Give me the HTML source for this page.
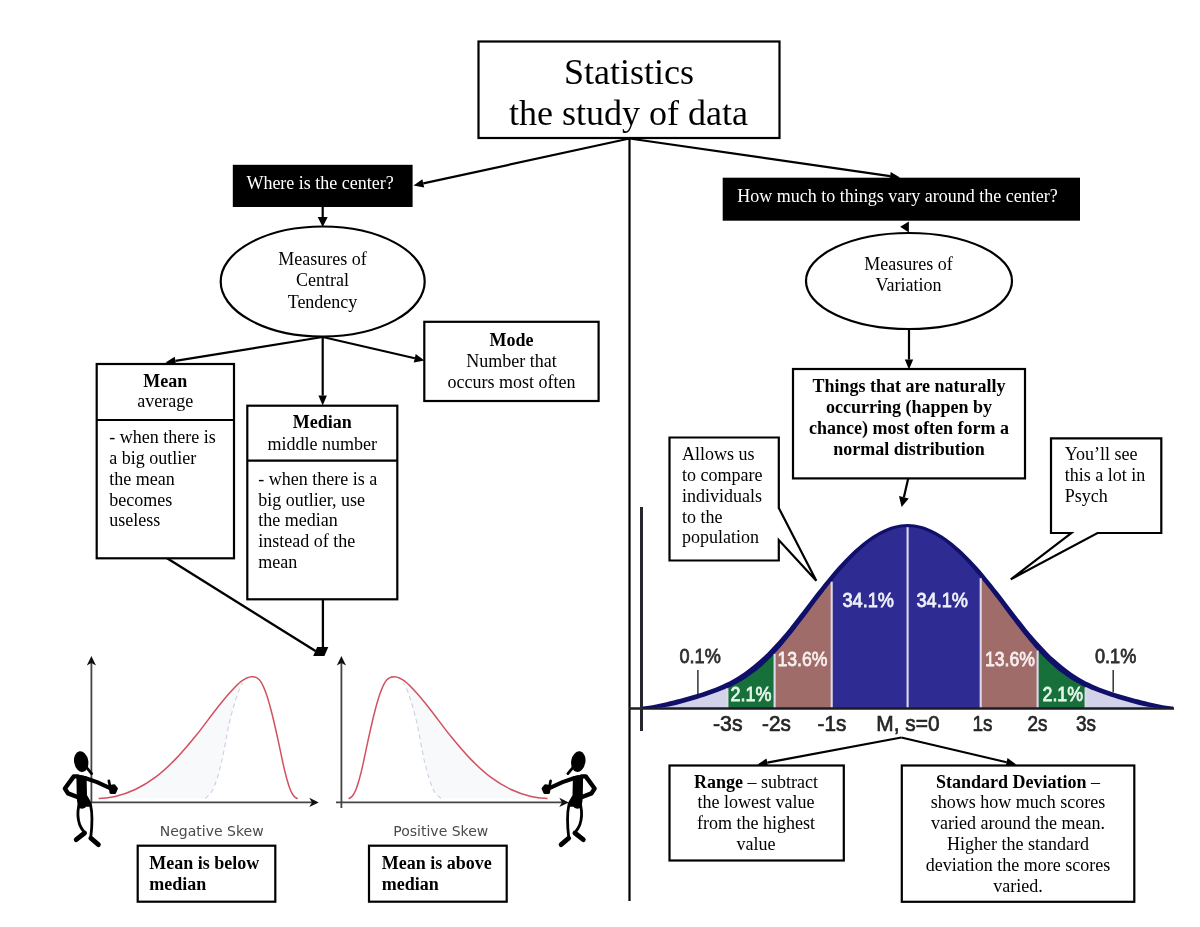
<!DOCTYPE html>
<html lang="en"><head><meta charset="utf-8"><title>Statistics - the study of data</title>
<style>
html,body{margin:0;padding:0;background:#fff}
svg{display:block}
text{font-family:"Liberation Serif","Times New Roman",serif;font-size:18px}
.big{font-size:36px}
.b{font-weight:bold}
.dv{font-family:"DejaVu Sans","Liberation Sans",sans-serif;font-size:14px;fill:#4a4a4a}
.ss text{font-family:"Liberation Sans","DejaVu Sans",sans-serif}
</style></head><body>
<svg width="1200" height="927" viewBox="0 0 1200 927">
<rect width="1200" height="927" fill="#fff"/>
<line x1="629.5" y1="138" x2="629.5" y2="901" stroke="#000" stroke-width="2.2"/>
<line x1="629.5" y1="138.5" x2="423.3" y2="183.4" stroke="#000" stroke-width="2.2"/><polygon points="413.5,185.5 422.4,179.2 424.2,187.5" fill="#000"/>
<line x1="629.5" y1="138.5" x2="890.1" y2="176.1" stroke="#000" stroke-width="2.2"/><polygon points="900,177.5 889.5,180.3 890.7,171.9" fill="#000"/>
<line x1="322.7" y1="206" x2="322.7" y2="217" stroke="#000" stroke-width="2.2"/><polygon points="322.7,227 317.7,217 327.7,217" fill="#000"/>
<line x1="322.7" y1="337" x2="175.4" y2="360.9" stroke="#000" stroke-width="2.2"/><polygon points="165.5,362.5 174.7,356.7 176.1,365.1" fill="#000"/>
<line x1="322.7" y1="337" x2="322.7" y2="395.5" stroke="#000" stroke-width="2.2"/><polygon points="322.7,405.5 318.4,395.5 326.9,395.5" fill="#000"/>
<line x1="322.7" y1="337" x2="414.8" y2="358.3" stroke="#000" stroke-width="2.2"/><polygon points="424.5,360.5 413.8,362.4 415.7,354.1" fill="#000"/>
<line x1="166.7" y1="558" x2="315.5" y2="651" stroke="#000" stroke-width="2.4"/>
<line x1="322.9" y1="599" x2="322.9" y2="650" stroke="#000" stroke-width="2.3"/>
<polygon points="317.1,647 328.3,647 324.4,656 313.2,656" fill="#000"/>
<polygon points="900.2,226.7 908.9,221.5 908.9,232.5" fill="#000"/>
<line x1="909" y1="329" x2="909" y2="359.5" stroke="#000" stroke-width="2.2"/><polygon points="909,369.5 904.8,359.5 913.2,359.5" fill="#000"/>
<line x1="908.3" y1="478" x2="903.9" y2="497.3" stroke="#000" stroke-width="2.2"/><polygon points="901.6,507 899,496.1 908.7,498.4" fill="#000"/>
<line x1="901.3" y1="737.5" x2="767.3" y2="762.7" stroke="#000" stroke-width="2.2"/><polygon points="757.5,764.5 766.5,758.5 768.1,766.8" fill="#000"/>
<line x1="901.3" y1="737.5" x2="1006.6" y2="762.2" stroke="#000" stroke-width="2.2"/><polygon points="1016.3,764.5 1005.6,766.4 1007.5,758.1" fill="#000"/>
<rect x="478.5" y="41.5" width="301" height="96.5" fill="#fff" stroke="#000" stroke-width="2.2"/>
<text x="629" y="83.5" text-anchor="middle" class="big">Statistics</text>
<text x="628.5" y="124.5" text-anchor="middle" class="big">the study of data</text>
<rect x="232.8" y="164.8" width="179.8" height="42.2" fill="#000" stroke="none" stroke-width="2.2"/>
<text x="246.4" y="188.7" fill="#fff">Where is the center?</text>
<ellipse cx="322.7" cy="281.5" rx="102" ry="55" fill="#fff" stroke="#000" stroke-width="2.2"/>
<text x="322.5" y="265.3" text-anchor="middle">Measures of</text>
<text x="322.5" y="286.4" text-anchor="middle">Central</text>
<text x="322.5" y="307.5" text-anchor="middle">Tendency</text>
<rect x="424.3" y="321.8" width="174.3" height="79.2" fill="#fff" stroke="#000" stroke-width="2.2"/>
<text x="511.5" y="346" text-anchor="middle" class="b">Mode</text>
<text x="511.5" y="366.7" text-anchor="middle">Number that</text>
<text x="511.5" y="387.6" text-anchor="middle">occurs most often</text>
<rect x="96.7" y="364" width="137.3" height="194.3" fill="#fff" stroke="#000" stroke-width="2.2"/>
<line x1="96.7" y1="420" x2="234" y2="420" stroke="#000" stroke-width="2.2"/>
<text x="165.3" y="386.7" text-anchor="middle" class="b">Mean</text>
<text x="165.3" y="407.4" text-anchor="middle">average</text>
<text x="109.3" y="443">- when there is</text>
<text x="109.3" y="463.9">a big outlier</text>
<text x="109.3" y="484.7">the mean</text>
<text x="109.3" y="505.6">becomes</text>
<text x="109.3" y="526.4">useless</text>
<rect x="247.3" y="405.7" width="150" height="193.6" fill="#fff" stroke="#000" stroke-width="2.2"/>
<line x1="247.3" y1="460.7" x2="397.3" y2="460.7" stroke="#000" stroke-width="2.2"/>
<text x="322.3" y="428.3" text-anchor="middle" class="b">Median</text>
<text x="322.3" y="449.5" text-anchor="middle">middle number</text>
<text x="258.3" y="484.6">- when there is a</text>
<text x="258.3" y="505.5">big outlier, use</text>
<text x="258.3" y="526.3">the median</text>
<text x="258.3" y="547.1">instead of the</text>
<text x="258.3" y="568">mean</text>
<path d="M98.6 798.5C101.3 798.2 109 798 115.1 796.5C121.2 795 128.5 792.7 135.2 789.5C141.9 786.3 148.5 782.4 155.2 777.4C161.9 772.4 168.6 766.2 175.3 759.4C182 752.5 188.7 744.5 195.4 736.3C202.1 728.1 209.7 717.4 215.4 710.2C221.1 703 225.2 698 229.5 693.1C233.8 688.2 239.3 682.8 241.5 681.1C243.7 679.4 242.3 682.7 242.5 683C241.7 684.9 239.7 687.6 237.5 694.1C235.3 700.6 232.2 710.8 229.5 722.2C226.8 733.6 224.2 751.4 221.5 762.4C218.8 773.4 216.1 782.5 213.4 788.5C210.7 794.5 206.7 796.8 205.4 798.5Z" fill="#f8f9fb"/><path d="M205.4 798.5C206.7 796.8 210.7 794.5 213.4 788.5C216.1 782.5 218.8 773.4 221.5 762.4C224.2 751.4 226.8 733.6 229.5 722.2C232.2 710.8 235.3 700.6 237.5 694.1C239.7 687.6 241.7 684.9 242.5 683" fill="none" stroke="#cbd0e0" stroke-width="1.1" stroke-dasharray="4.5 3.5"/><path d="M98.6 798.5C101.3 798.2 109 798 115.1 796.5C121.2 795 128.5 792.7 135.2 789.5C141.9 786.3 148.5 782.4 155.2 777.4C161.9 772.4 168.6 766.2 175.3 759.4C182 752.5 188.7 744.5 195.4 736.3C202.1 728.1 209.7 717.4 215.4 710.2C221.1 703 225.2 698 229.5 693.1C233.8 688.2 237.8 683.8 241.5 681.1C245.2 678.4 248.6 676.9 251.6 676.7C254.6 676.5 257.3 677.5 259.6 680.1C261.9 682.7 263.6 686.8 265.6 692.1C267.6 697.5 269.6 704.5 271.6 712.2C273.6 719.9 275.7 729.3 277.7 738.3C279.7 747.3 282.1 759.5 283.7 766.4C285.2 773.3 285.9 775.6 287 779.5C288.1 783.4 289.2 787 290.3 789.8C291.4 792.5 292.6 794.5 293.8 796C295 797.5 296.9 798.3 297.5 798.8" fill="none" stroke="#d2505f" stroke-width="1.5"/><path d="M547.6 798.5C544.9 798.2 537.2 798 531.1 796.5C525 795 517.7 792.7 511 789.5C504.3 786.3 497.7 782.4 491 777.4C484.3 772.4 477.6 766.2 470.9 759.4C464.2 752.5 457.5 744.5 450.8 736.3C444.1 728.1 436.5 717.4 430.8 710.2C425.1 703 421.1 698 416.7 693.1C412.4 688.2 406.9 682.8 404.7 681.1C402.5 679.4 403.9 682.7 403.7 683C404.5 684.9 406.5 687.6 408.7 694.1C410.9 700.6 414 710.8 416.7 722.2C419.4 733.6 422 751.4 424.7 762.4C427.4 773.4 430.1 782.5 432.8 788.5C435.5 794.5 439.5 796.8 440.8 798.5Z" fill="#f8f9fb"/><path d="M440.8 798.5C439.5 796.8 435.5 794.5 432.8 788.5C430.1 782.5 427.4 773.4 424.7 762.4C422 751.4 419.4 733.6 416.7 722.2C414 710.8 410.9 700.6 408.7 694.1C406.5 687.6 404.5 684.9 403.7 683" fill="none" stroke="#cbd0e0" stroke-width="1.1" stroke-dasharray="4.5 3.5"/><path d="M547.6 798.5C544.9 798.2 537.2 798 531.1 796.5C525 795 517.7 792.7 511 789.5C504.3 786.3 497.7 782.4 491 777.4C484.3 772.4 477.6 766.2 470.9 759.4C464.2 752.5 457.5 744.5 450.8 736.3C444.1 728.1 436.5 717.4 430.8 710.2C425.1 703 421.1 698 416.7 693.1C412.4 688.2 408.4 683.8 404.7 681.1C401 678.4 397.6 676.9 394.6 676.7C391.6 676.5 388.9 677.5 386.6 680.1C384.3 682.7 382.6 686.8 380.6 692.1C378.6 697.5 376.6 704.5 374.6 712.2C372.6 719.9 370.5 729.3 368.5 738.3C366.5 747.3 364.1 759.5 362.5 766.4C361 773.3 360.3 775.6 359.2 779.5C358.1 783.4 357 787 355.9 789.8C354.8 792.5 353.6 794.5 352.4 796C351.2 797.5 349.3 798.3 348.7 798.8" fill="none" stroke="#d2505f" stroke-width="1.5"/>
<path d="M91.4 663V802.4H312" fill="none" stroke="#444" stroke-width="1.8"/><path d="M91.4 656l4.6 9.5l-4.6 -2.6l-4.6 2.6z" fill="#111"/><path d="M318.8 802.4l-9.5 -4.6l2.6 4.6l-2.6 4.6z" fill="#111"/><path d="M341.4 663V808M336 802.4H562" fill="none" stroke="#444" stroke-width="1.8"/><path d="M341.4 656l4.6 9.5l-4.6 -2.6l-4.6 2.6z" fill="#111"/><path d="M568.8 802.4l-9.5 -4.6l2.6 4.6l-2.6 4.6z" fill="#111"/>
<g fill="none" stroke="#000" stroke-linecap="round" stroke-linejoin="round">
<ellipse cx="81.2" cy="761.6" rx="7.1" ry="10.4" fill="#000" stroke="none" transform="rotate(-10 81.2 761.6)"/>
<path d="M87.3 768.3L91.6 773.6" stroke-width="2.8"/>
<path d="M77.2 776.6C80 775.6 84 776.2 85.8 777.5L86.2 795.5L91 803.6L89.8 806L86 805.8C84 808.6 80.5 808.6 78.6 806L77.6 799Z" fill="#000" stroke-width="1.6"/>
<path d="M78 776.4L73.8 776.4L64.9 788.5L68 793.4L76.8 796.8" stroke-width="4.4"/>
<path d="M85 778L97 782.2L109.5 787.8" stroke-width="4"/>
<path d="M109.8 786.2L114.2 785.6L116.6 788.6L114.8 792.8L110.8 792.6Z" fill="#000" stroke-width="2.6"/>
<path d="M110 786.4L108.9 780.9" stroke-width="2.7"/>
<path d="M78.8 805.5C77.5 812 77.7 819 79.6 824.5C81 828.5 83.5 831 84.8 832.8" stroke-width="2.8"/>
<path d="M84.6 833L76.2 839.7" stroke-width="4.8"/>
<path d="M90.6 805C92.2 812 92.3 825 90.7 838.2" stroke-width="2.8"/>
<path d="M90.8 838.2L98.4 844.6" stroke-width="4.8"/>
</g>
<g transform="translate(659.5 0) scale(-1 1)" fill="none" stroke="#000" stroke-linecap="round" stroke-linejoin="round">
<ellipse cx="81.2" cy="761.6" rx="7.1" ry="10.4" fill="#000" stroke="none" transform="rotate(-10 81.2 761.6)"/>
<path d="M87.3 768.3L91.6 773.6" stroke-width="2.8"/>
<path d="M77.2 776.6C80 775.6 84 776.2 85.8 777.5L86.2 795.5L91 803.6L89.8 806L86 805.8C84 808.6 80.5 808.6 78.6 806L77.6 799Z" fill="#000" stroke-width="1.6"/>
<path d="M78 776.4L73.8 776.4L64.9 788.5L68 793.4L76.8 796.8" stroke-width="4.4"/>
<path d="M85 778L97 782.2L109.5 787.8" stroke-width="4"/>
<path d="M109.8 786.2L114.2 785.6L116.6 788.6L114.8 792.8L110.8 792.6Z" fill="#000" stroke-width="2.6"/>
<path d="M110 786.4L108.9 780.9" stroke-width="2.7"/>
<path d="M78.8 805.5C77.5 812 77.7 819 79.6 824.5C81 828.5 83.5 831 84.8 832.8" stroke-width="2.8"/>
<path d="M84.6 833L76.2 839.7" stroke-width="4.8"/>
<path d="M90.6 805C92.2 812 92.3 825 90.7 838.2" stroke-width="2.8"/>
<path d="M90.8 838.2L98.4 844.6" stroke-width="4.8"/>
</g>
<text x="211.7" y="836" text-anchor="middle" class="dv">Negative Skew</text>
<text x="440.8" y="836" text-anchor="middle" class="dv">Positive Skew</text>
<rect x="137.7" y="845.7" width="137.6" height="56" fill="#fff" stroke="#000" stroke-width="2.2"/>
<text x="149.3" y="869.3" class="b">Mean is below</text>
<text x="149.3" y="889.7" class="b">median</text>
<rect x="369" y="845.7" width="137.7" height="56" fill="#fff" stroke="#000" stroke-width="2.2"/>
<text x="381.7" y="869.3" class="b">Mean is above</text>
<text x="381.7" y="889.7" class="b">median</text>
<rect x="722.7" y="177.7" width="357.3" height="43" fill="#000" stroke="none" stroke-width="2.2"/>
<text x="737.3" y="201.7" fill="#fff">How much to things vary around the center?</text>
<ellipse cx="909" cy="281" rx="103" ry="48" fill="#fff" stroke="#000" stroke-width="2.2"/>
<text x="908.5" y="270" text-anchor="middle">Measures of</text>
<text x="908.5" y="290.9" text-anchor="middle">Variation</text>
<rect x="793" y="369" width="232" height="109.4" fill="#fff" stroke="#000" stroke-width="2.2"/>
<text x="909" y="392.4" text-anchor="middle" class="b">Things that are naturally</text>
<text x="909" y="413.4" text-anchor="middle" class="b">occurring (happen by</text>
<text x="909" y="434.4" text-anchor="middle" class="b">chance) most often form a</text>
<text x="909" y="455.4" text-anchor="middle" class="b">normal distribution</text>
<g class="ss">
<path d="M642 706.6C643.2 706.5 646.7 706.1 649 705.7C651.3 705.4 653.6 705 656 704.5C658.3 704 660.6 703.5 663 703C665.3 702.5 667.6 701.9 670 701.3C672.3 700.8 674.6 700.2 676.9 699.6C679.3 699 681.6 698.3 683.9 697.7C686.3 697.1 688.6 696.4 690.9 695.7C693.3 695.1 695.6 694.4 697.9 693.7C700.2 693 702.6 692.2 704.9 691.4C707.2 690.7 709.6 689.9 711.9 689C714.2 688.1 716.6 687.2 718.9 686.2C721.2 685.2 723.5 684.2 725.9 683C728.2 681.9 730.5 680.7 732.9 679.4C735.2 678.1 737.5 676.7 739.9 675.2C742.2 673.7 744.5 672.1 746.8 670.4C749.2 668.7 751.5 666.9 753.8 665C756.2 663.1 758.5 661.1 760.8 659C763.2 656.9 765.5 654.7 767.8 652.4C770.1 650 772.5 647.6 774.8 645.1C777.1 642.6 779.5 640 781.8 637.3C784.1 634.6 786.4 631.8 788.8 628.9C791.1 626 793.4 623.1 795.8 620.1C798.1 617.1 800.4 614.1 802.8 611C805.1 608 807.4 604.9 809.7 601.9C812.1 598.8 814.4 595.8 816.7 592.8C819.1 589.8 821.4 586.8 823.7 583.9C826.1 581 828.4 578.1 830.7 575.4C833 572.6 835.4 569.9 837.7 567.3C840 564.7 842.4 562.2 844.7 559.7C847 557.3 849.4 555 851.7 552.7C854 550.5 856.3 548.4 858.7 546.4C861 544.4 863.3 542.5 865.7 540.7C868 539 870.3 537.3 872.7 535.8C875 534.3 877.3 532.9 879.6 531.7C882 530.5 884.3 529.4 886.6 528.4C889 527.5 891.3 526.7 893.6 526C896 525.4 898.3 524.9 900.6 524.5C902.9 524.2 905.3 523.9 907.6 523.9C909.9 523.9 912.3 524.2 914.6 524.5C916.9 524.9 919.2 525.4 921.6 526C923.9 526.7 926.2 527.5 928.6 528.4C930.9 529.4 933.2 530.5 935.6 531.7C937.9 532.9 940.2 534.3 942.5 535.8C944.9 537.3 947.2 539 949.5 540.7C951.9 542.5 954.2 544.4 956.5 546.4C958.9 548.4 961.2 550.5 963.5 552.7C965.8 555 968.2 557.3 970.5 559.7C972.8 562.2 975.2 564.7 977.5 567.3C979.8 569.9 982.2 572.6 984.5 575.4C986.8 578.1 989.1 581 991.5 583.9C993.8 586.8 996.1 589.8 998.5 592.8C1000.8 595.8 1003.1 598.8 1005.5 601.9C1007.8 604.9 1010.1 608 1012.4 611C1014.8 614.1 1017.1 617.1 1019.4 620.1C1021.8 623.1 1024.1 626 1026.4 628.9C1028.8 631.8 1031.1 634.6 1033.4 637.3C1035.7 640 1038.1 642.6 1040.4 645.1C1042.7 647.6 1045.1 650 1047.4 652.4C1049.7 654.7 1052 656.9 1054.4 659C1056.7 661.1 1059 663.1 1061.4 665C1063.7 666.9 1066 668.7 1068.4 670.4C1070.7 672.1 1073 673.7 1075.3 675.2C1077.7 676.7 1080 678.1 1082.3 679.4C1084.7 680.7 1087 681.9 1089.3 683C1091.7 684.2 1094 685.2 1096.3 686.2C1098.6 687.2 1101 688.1 1103.3 689C1105.6 689.9 1108 690.7 1110.3 691.4C1112.6 692.2 1115 693 1117.3 693.7C1119.6 694.4 1121.9 695.1 1124.3 695.7C1126.6 696.4 1128.9 697.1 1131.3 697.7C1133.6 698.3 1135.9 699 1138.3 699.6C1140.6 700.2 1142.9 700.8 1145.2 701.3C1147.6 701.9 1149.9 702.5 1152.2 703C1154.6 703.5 1156.9 704 1159.2 704.5C1161.6 705 1163.9 705.4 1166.2 705.7C1168.5 706.1 1172 706.5 1173.2 706.6L1173.2 708.5L642 708.5Z" fill="#10106a"/>
<path d="M655 708C656.2 707.9 659.7 707.8 662 707.5C664.4 707.3 666.7 706.9 669 706.5C671.4 706 673.7 705.5 676 704.9C678.4 704.4 680.7 703.7 683.1 703.1C685.4 702.4 687.7 701.8 690.1 701.1C692.4 700.4 694.8 699.6 697.1 698.9C699.4 698.2 701.8 697.4 704.1 696.7C706.5 695.9 708.8 695.1 711.1 694.3C713.5 693.5 715.8 692.7 718.1 691.8C720.5 690.9 723.6 689.7 725.2 689C726.7 688.4 727 688.2 727.4 688L727.4 708.5L655 708.5Z" fill="#d2d2e8"/>
<path d="M1085.6 687.1C1086.3 687.4 1088.1 688.2 1090 689C1091.9 689.8 1094.7 690.9 1097.1 691.8C1099.4 692.7 1101.7 693.5 1104.1 694.3C1106.4 695.1 1108.7 695.9 1111.1 696.7C1113.4 697.4 1115.8 698.2 1118.1 698.9C1120.4 699.6 1122.8 700.4 1125.1 701.1C1127.5 701.8 1129.8 702.4 1132.1 703.1C1134.5 703.7 1136.8 704.4 1139.2 704.9C1141.5 705.5 1143.8 706 1146.2 706.5C1148.5 706.9 1150.8 707.3 1153.2 707.5C1155.5 707.8 1159 707.9 1160.2 708L1160.2 708.5L1085.6 708.5Z" fill="#d2d2e8"/>
<path d="M727.4 688C728.2 687.7 730.2 686.9 732.2 685.9C734.2 685 736.9 683.6 739.2 682.3C741.5 681 743.9 679.6 746.2 678.1C748.6 676.5 750.9 674.9 753.2 673.1C755.6 671.4 757.9 669.5 760.2 667.5C762.6 665.5 764.9 663.4 767.3 661.1C769.7 658.8 773.4 654.9 774.6 653.6L774.6 708.5L727.4 708.5Z" fill="#17703a"/>
<path d="M1037.6 650.3C1038.2 650.9 1039.2 652.2 1040.9 654C1042.6 655.8 1045.6 658.8 1047.9 661.1C1050.3 663.3 1052.6 665.5 1055 667.5C1057.3 669.5 1059.6 671.4 1062 673.1C1064.3 674.9 1066.6 676.5 1069 678.1C1071.3 679.6 1073.7 681 1076 682.3C1078.3 683.6 1081.4 685.1 1083 685.9C1084.6 686.7 1085.2 686.9 1085.6 687.1L1085.6 708.5L1037.6 708.5Z" fill="#17703a"/>
<path d="M774.6 653.6C775.7 652.4 779 648.8 781.3 646.2C783.6 643.5 786 640.7 788.3 637.8C790.7 634.9 793 631.9 795.3 628.9C797.7 625.9 800 622.9 802.4 619.8C804.7 616.7 807 613.6 809.4 610.5C811.7 607.4 814 604.2 816.4 601.1C818.7 598 821.1 595 823.4 591.9C825.7 588.9 829 584.7 830.4 583C831.8 581.2 831.5 581.6 831.7 581.4L831.7 708.5L774.6 708.5Z" fill="#a06c69"/>
<path d="M980.7 577.9C981.4 578.8 982.9 580.6 984.8 583C986.6 585.3 989.5 588.9 991.8 591.9C994.1 595 996.5 598 998.8 601.1C1001.2 604.2 1003.5 607.4 1005.8 610.5C1008.2 613.6 1010.5 616.7 1012.9 619.8C1015.2 622.9 1017.5 625.9 1019.9 628.9C1022.2 631.9 1024.5 634.9 1026.9 637.8C1029.2 640.7 1032.1 644.1 1033.9 646.2C1035.7 648.2 1037 649.6 1037.6 650.3L1037.6 708.5L980.7 708.5Z" fill="#a06c69"/>
<path d="M831.7 581.4C832.7 580.2 835.3 576.9 837.4 574.3C839.6 571.8 842.1 568.8 844.5 566.2C846.8 563.6 849.1 561 851.5 558.6C853.8 556.2 856.1 553.8 858.5 551.7C860.8 549.5 863.2 547.4 865.5 545.4C867.8 543.5 870.2 541.7 872.5 540C874.9 538.4 877.2 536.9 879.5 535.5C881.9 534.1 884.2 532.9 886.6 531.9C888.9 530.8 891.2 529.9 893.6 529.2C895.9 528.5 898.2 528 900.6 527.6C902.9 527.2 905.3 526.9 907.6 526.9C909.9 526.9 912.3 527.2 914.6 527.6C917 528 919.3 528.5 921.6 529.2C924 529.9 926.3 530.8 928.6 531.9C931 532.9 933.3 534.1 935.7 535.5C938 536.9 940.3 538.4 942.7 540C945 541.7 947.4 543.5 949.7 545.4C952 547.4 954.4 549.5 956.7 551.7C959.1 553.8 961.4 556.2 963.7 558.6C966.1 561 968.4 563.6 970.8 566.2C973.1 568.8 976.1 572.4 977.8 574.3C979.4 576.3 980.2 577.3 980.7 577.9L980.7 708.5L831.7 708.5Z" fill="#2e2c92"/>
<line x1="727.4" y1="688.3" x2="727.4" y2="708.5" stroke="#dcdaea" stroke-width="2.1"/>
<line x1="774.6" y1="653.9" x2="774.6" y2="708.5" stroke="#dcdaea" stroke-width="2.1"/>
<line x1="831.7" y1="581.7" x2="831.7" y2="708.5" stroke="#dcdaea" stroke-width="2.1"/>
<line x1="907.6" y1="527.2" x2="907.6" y2="708.5" stroke="#dcdaea" stroke-width="2.1"/>
<line x1="980.7" y1="578.2" x2="980.7" y2="708.5" stroke="#dcdaea" stroke-width="2.1"/>
<line x1="1037.6" y1="650.6" x2="1037.6" y2="708.5" stroke="#dcdaea" stroke-width="2.1"/>
<line x1="1085.6" y1="687.4" x2="1085.6" y2="708.5" stroke="#dcdaea" stroke-width="2.1"/>
<line x1="629" y1="708.5" x2="1174" y2="708.5" stroke="#1c1c24" stroke-width="2.6"/>
<line x1="641.5" y1="507" x2="641.5" y2="731" stroke="#26262c" stroke-width="3"/>
<line x1="697.9" y1="670" x2="697.9" y2="694" stroke="#333" stroke-width="1.5"/>
<line x1="1113.2" y1="670" x2="1113.2" y2="692.5" stroke="#333" stroke-width="1.5"/>
<text x="842.5" y="607" textLength="51.5" lengthAdjust="spacingAndGlyphs" style="font-size:21px" fill="#f0f0fa" stroke="#f0f0fa" stroke-width="0.8">34.1%</text>
<text x="916.5" y="607" textLength="51.5" lengthAdjust="spacingAndGlyphs" style="font-size:21px" fill="#f0f0fa" stroke="#f0f0fa" stroke-width="0.8">34.1%</text>
<text x="777.5" y="666.3" textLength="50" lengthAdjust="spacingAndGlyphs" style="font-size:21px" fill="#f6eeee" stroke="#f6eeee" stroke-width="0.8">13.6%</text>
<text x="985" y="666.3" textLength="50" lengthAdjust="spacingAndGlyphs" style="font-size:21px" fill="#f6eeee" stroke="#f6eeee" stroke-width="0.8">13.6%</text>
<text x="730.5" y="701.3" textLength="41" lengthAdjust="spacingAndGlyphs" style="font-size:21px" fill="#e6f6ea" stroke="#e6f6ea" stroke-width="0.8">2.1%</text>
<text x="1042.5" y="701.3" textLength="40.5" lengthAdjust="spacingAndGlyphs" style="font-size:21px" fill="#e6f6ea" stroke="#e6f6ea" stroke-width="0.8">2.1%</text>
<text x="679.5" y="663" textLength="41.3" lengthAdjust="spacingAndGlyphs" style="font-size:21px" fill="#2e2e2e" stroke="#2e2e2e" stroke-width="0.8">0.1%</text>
<text x="1095" y="663" textLength="41.3" lengthAdjust="spacingAndGlyphs" style="font-size:21px" fill="#2e2e2e" stroke="#2e2e2e" stroke-width="0.8">0.1%</text>
<text x="713" y="731" textLength="29.5" lengthAdjust="spacingAndGlyphs" style="font-size:22.5px" fill="#262626" stroke="#262626" stroke-width="0.7">-3s</text>
<text x="762" y="731" textLength="28.8" lengthAdjust="spacingAndGlyphs" style="font-size:22.5px" fill="#262626" stroke="#262626" stroke-width="0.7">-2s</text>
<text x="817.5" y="731" textLength="28.8" lengthAdjust="spacingAndGlyphs" style="font-size:22.5px" fill="#262626" stroke="#262626" stroke-width="0.7">-1s</text>
<text x="876.3" y="731" textLength="63.2" lengthAdjust="spacingAndGlyphs" style="font-size:22.5px" fill="#262626" stroke="#262626" stroke-width="0.7">M, s=0</text>
<text x="972.5" y="731" textLength="20" lengthAdjust="spacingAndGlyphs" style="font-size:22.5px" fill="#262626" stroke="#262626" stroke-width="0.7">1s</text>
<text x="1027.5" y="731" textLength="20" lengthAdjust="spacingAndGlyphs" style="font-size:22.5px" fill="#262626" stroke="#262626" stroke-width="0.7">2s</text>
<text x="1076" y="731" textLength="20" lengthAdjust="spacingAndGlyphs" style="font-size:22.5px" fill="#262626" stroke="#262626" stroke-width="0.7">3s</text>
</g>
<path d="M778.8 508V437.5H669.5V560.5H778.8V540L816.3 580.8Z" fill="#fff" stroke="#000" stroke-width="2.2" stroke-linejoin="miter"/>
<text x="682" y="460">Allows us</text>
<text x="682" y="480.9">to compare</text>
<text x="682" y="501.7">individuals</text>
<text x="682" y="522.5">to the</text>
<text x="682" y="543.4">population</text>
<path d="M1071.3 533H1051V438.3H1161.3V533H1097.5L1010.8 579.3Z" fill="#fff" stroke="#000" stroke-width="2.2" stroke-linejoin="miter"/>
<text x="1064.7" y="459.8">You’ll see</text>
<text x="1064.7" y="481">this a lot in</text>
<text x="1064.7" y="502.2">Psych</text>
<rect x="669.5" y="765.5" width="174.3" height="95" fill="#fff" stroke="#000" stroke-width="2.2"/>
<text x="756" y="787.5" text-anchor="middle"><tspan class="b">Range</tspan> – subtract</text>
<text x="756" y="808.2" text-anchor="middle">the lowest value</text>
<text x="756" y="829.1" text-anchor="middle">from the highest</text>
<text x="756" y="849.9" text-anchor="middle">value</text>
<rect x="901.8" y="765.5" width="232.5" height="136.3" fill="#fff" stroke="#000" stroke-width="2.2"/>
<text x="1018" y="787.5" text-anchor="middle"><tspan class="b">Standard Deviation</tspan> –</text>
<text x="1018" y="808.2" text-anchor="middle">shows how much scores</text>
<text x="1018" y="829.1" text-anchor="middle">varied around the mean.</text>
<text x="1018" y="849.9" text-anchor="middle">Higher the standard</text>
<text x="1018" y="870.8" text-anchor="middle">deviation the more scores</text>
<text x="1018" y="891.6" text-anchor="middle">varied.</text>
</svg>
</body></html>
